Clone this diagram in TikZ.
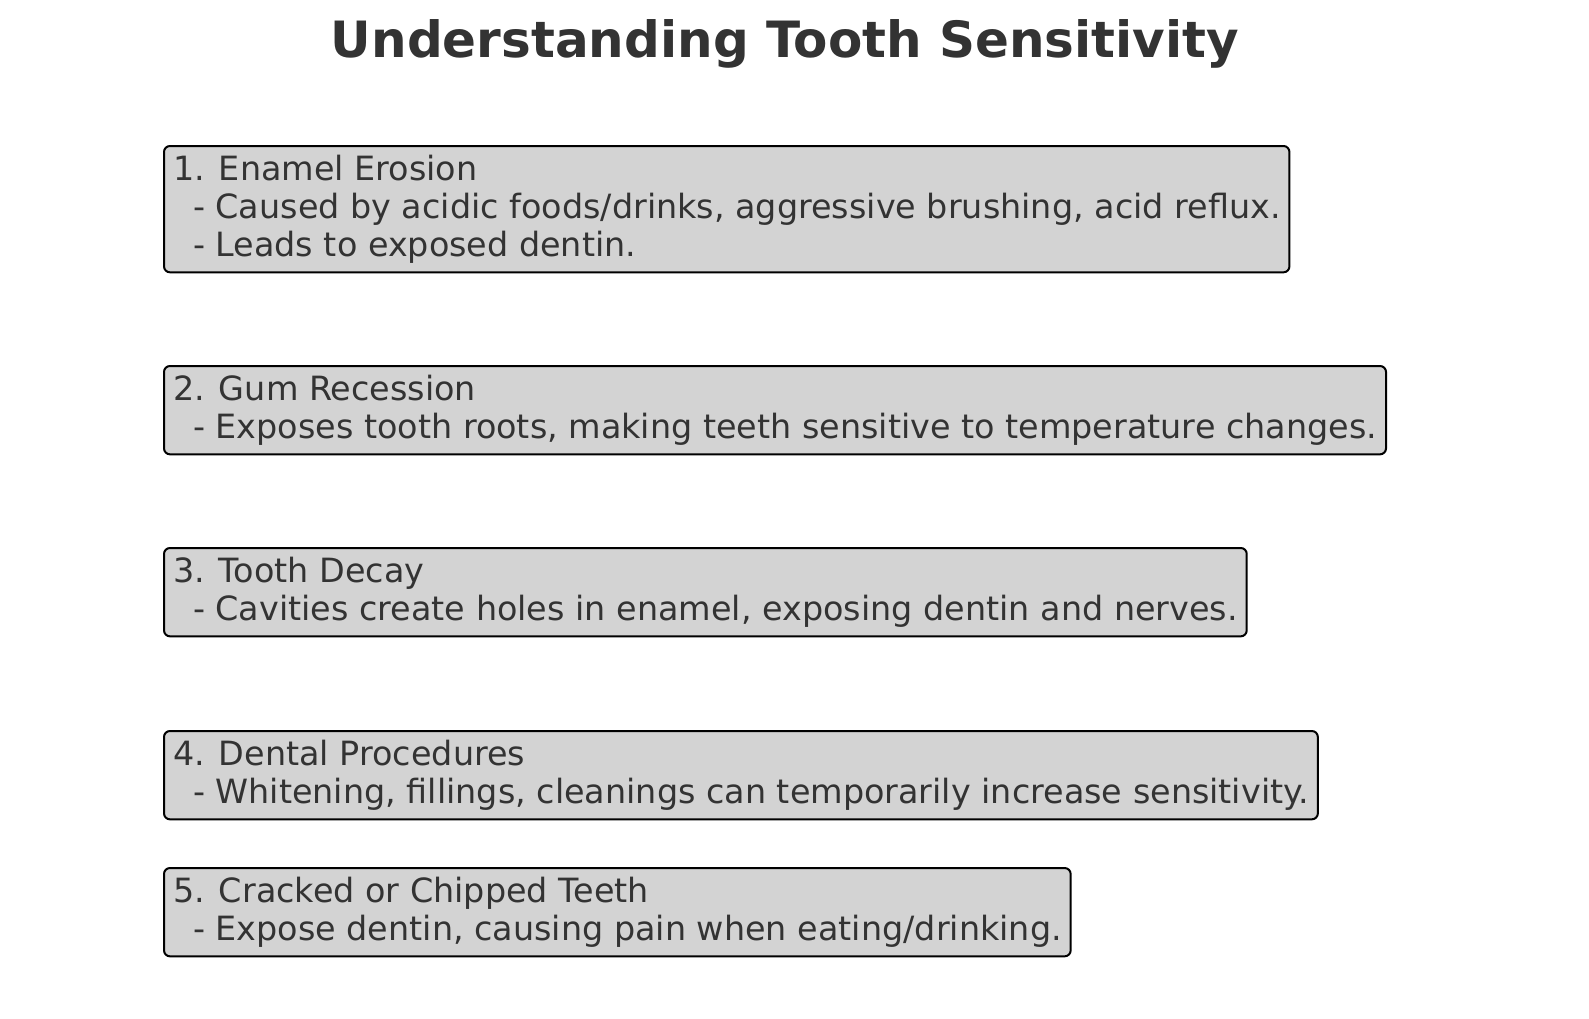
\documentclass[tikz,border=0pt]{standalone}
\usepackage{fontspec}
\setmainfont{DejaVu Sans}
\usetikzlibrary{positioning}
\definecolor{textgray}{HTML}{333333}
\definecolor{boxgray}{HTML}{D3D3D3}

\begin{document}
\begin{tikzpicture}[x=1pt, y=-1pt,
                    cause/.style={draw=black, fill=boxgray, line width=2pt,
                                  rounded corners=6pt, anchor=north west,
                                  align=left, inner xsep=9pt, inner ysep=9pt,
                                  text=textgray,
                                  font=\fontsize{33.4}{38}\selectfont},
                    heading/.style={text=textgray,
                                    font=\fontsize{50}{56}\selectfont\bfseries}]
  \useasboundingbox (0,0) rectangle (1589,1018);

  % Title
  \node [heading] (title) at (785,44) {Understanding Tooth Sensitivity};

  % Causes, one box each
  \node [cause] (erosion) at (163,145) {1. Enamel Erosion\\
    \hspace*{20pt}- Caused by acidic foods/drinks, aggressive brushing, acid reflux.\\
    \hspace*{20pt}- Leads to exposed dentin.};
  \node [cause] (recession) at (163,365) {2. Gum Recession\\
    \hspace*{20pt}- Exposes tooth roots, making teeth sensitive to temperature changes.};
  \node [cause] (decay) at (163,547) {3. Tooth Decay\\
    \hspace*{20pt}- Cavities create holes in enamel, exposing dentin and nerves.};
  \node [cause] (procedures) at (163,730) {4. Dental Procedures\\
    \hspace*{20pt}- Whitening, fillings, cleanings can temporarily increase sensitivity.};
  \node [cause] (cracked) at (163,867) {5. Cracked or Chipped Teeth\\
    \hspace*{20pt}- Expose dentin, causing pain when eating/drinking.};

\end{tikzpicture}
\end{document}
